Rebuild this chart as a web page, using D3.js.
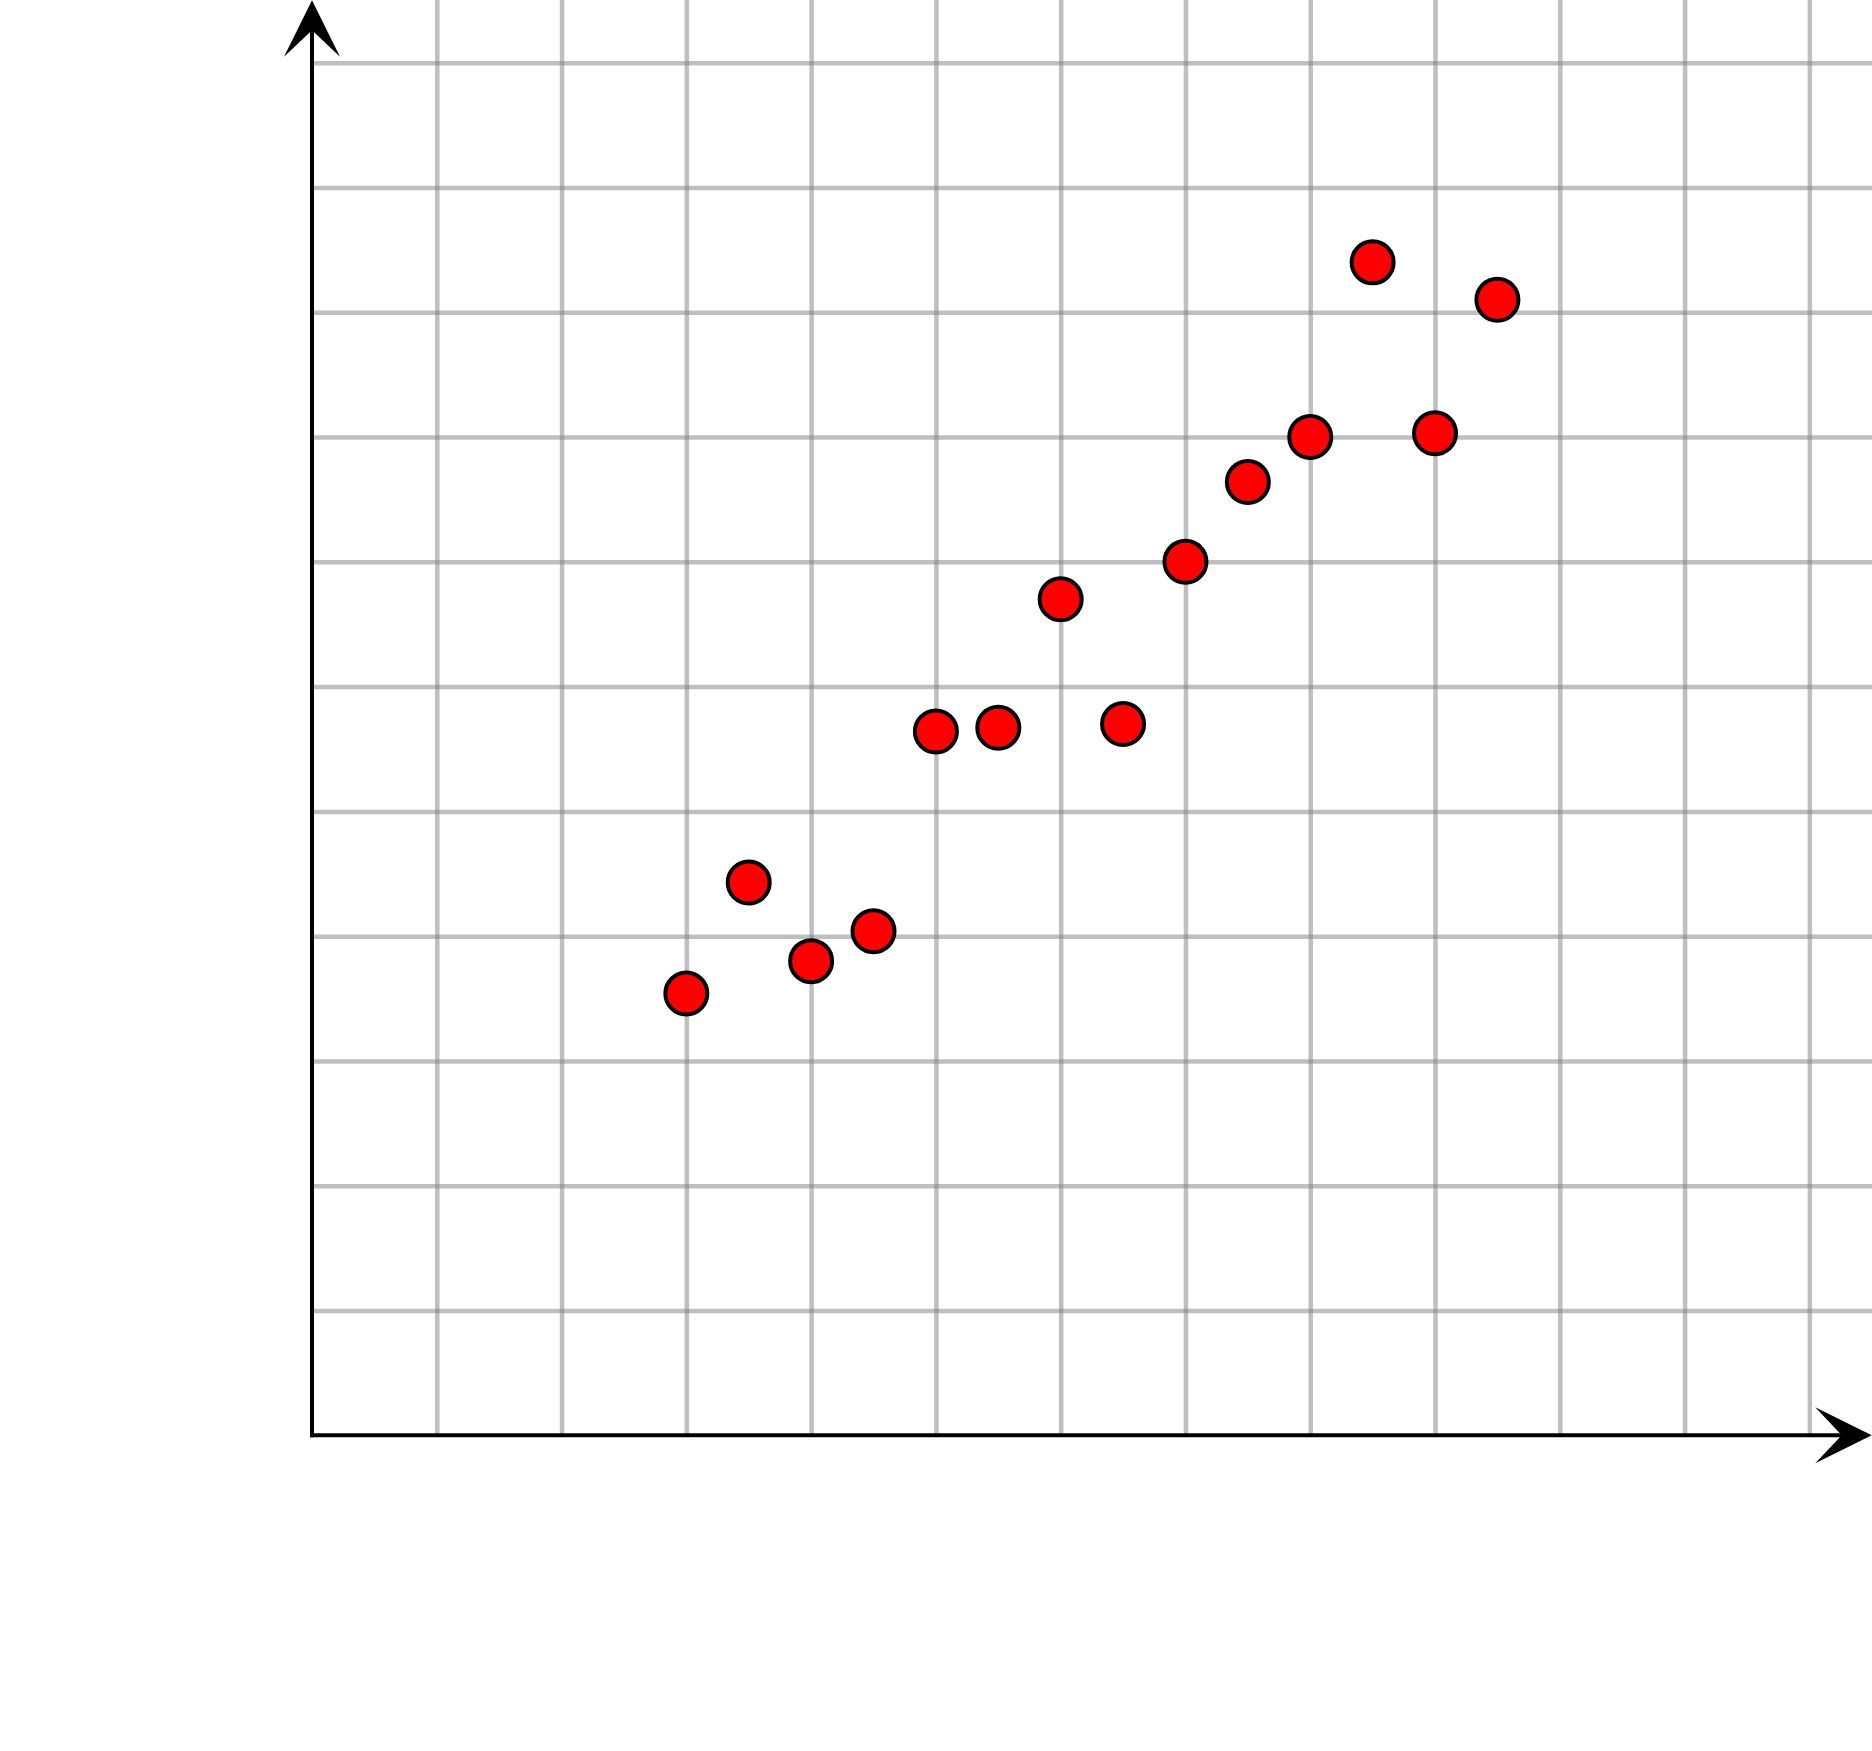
<!DOCTYPE html>
<html lang="en">

    <head>
        <meta charset="utf-8">
        <title>Scatter on grid</title>
        <script src="https://d3js.org/d3.v7.min.js"></script>
        <style type="text/css">

          body{
            background-color: white;
            margin: 0;
          }
          svg{
            display: block;
          }

        </style>
    </head>
    <body>

        <svg></svg>

        <script type="text/javascript">

        // values (grid units)
        const xValues = [3, 3.5, 4, 4.5, 5, 5.5, 6, 6.5, 7, 7.5, 8, 8.5, 9, 9.5];
        const yValues = [3.54, 4.43, 3.80, 4.04, 5.64, 5.67, 6.70, 5.70, 7.00, 7.64, 8.00, 9.40, 8.03, 9.10];

        const xTicks = [1, 2, 3, 4, 5, 6, 7, 8, 9, 10, 11, 12];
        const yTicks = [1, 2, 3, 4, 5, 6, 7, 8, 9, 10, 11];

        const svgWidth = 1872;
        const svgHeight = 1751;
        const left = 312;
        const bottom = 1435.3;
        const step = 124.78;

        const svg = d3.select("svg")
          .attr("width", svgWidth)
          .attr("height", svgHeight);

        const x = d3.scaleLinear()
          .domain([0, 12])
          .range([left, left + 12 * step]);

        const y = d3.scaleLinear()
          .domain([0, 11])
          .range([bottom, bottom - 11 * step]);

        function styleGrid(g) {
          g.select(".domain").remove();
          g.selectAll(".tick line")
            .style("stroke", "#808080")
            .style("stroke-opacity", 0.5)
            .style("stroke-width", "4.5px");
        }

        // vertical grid lines, from the x axis up to the top edge
        svg.append("g")
          .attr("transform", "translate(0," + bottom + ")")
          .call(d3.axisBottom(x).tickValues(xTicks).tickSize(-bottom).tickFormat(""))
          .call(styleGrid);

        // horizontal grid lines, from the y axis to the right edge
        svg.append("g")
          .attr("transform", "translate(" + left + ",0)")
          .call(d3.axisLeft(y).tickValues(yTicks).tickSize(-(svgWidth - left)).tickFormat(""))
          .call(styleGrid);

        // axes with arrow heads
        const xEnd = x(12.5);
        const yEnd = y(11.5);

        svg.append("line")
          .attr("x1", x(0)).attr("y1", y(0) + 2)
          .attr("x2", x(0)).attr("y2", yEnd + 30)
          .attr("stroke", "black")
          .attr("stroke-width", 4);

        svg.append("line")
          .attr("x1", x(0) - 2).attr("y1", y(0))
          .attr("x2", xEnd - 30).attr("y2", y(0))
          .attr("stroke", "black")
          .attr("stroke-width", 4);

        svg.append("path")
          .attr("d", "M" + x(0) + "," + yEnd +
                     " L" + (x(0) + 28) + "," + (yEnd + 56.5) +
                     " L" + x(0) + "," + (yEnd + 30) +
                     " L" + (x(0) - 28) + "," + (yEnd + 56.5) + " Z")
          .attr("fill", "black");

        svg.append("path")
          .attr("d", "M" + xEnd + "," + y(0) +
                     " L" + (xEnd - 56.5) + "," + (y(0) - 28) +
                     " L" + (xEnd - 30) + "," + y(0) +
                     " L" + (xEnd - 56.5) + "," + (y(0) + 28) + " Z")
          .attr("fill", "black");

        // the points
        svg.append("g")
          .selectAll("circle")
          .data(d3.zip(xValues, yValues))
          .join("circle")
          .attr("cx", d => x(d[0]))
          .attr("cy", d => y(d[1]))
          .attr("r", 21)
          .attr("fill", "#ff0000")
          .attr("stroke", "black")
          .attr("stroke-width", 4);

        </script>
    </body>
  </html>
